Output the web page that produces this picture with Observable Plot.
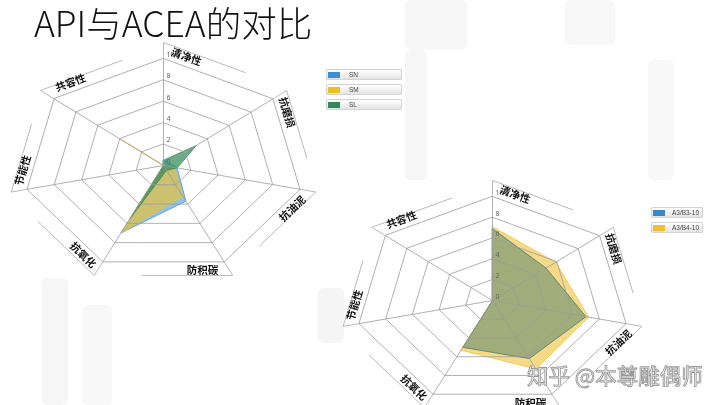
<!DOCTYPE html>
<html><head><meta charset="utf-8">
<script src="https://cdn.jsdelivr.net/npm/d3@7"></script>
<script src="https://cdn.jsdelivr.net/npm/@observablehq/plot@0.6"></script>
<style>
html,body{margin:0;padding:0;background:#fff;}
#slide{position:relative;width:720px;height:405px;overflow:hidden;background:#fff;font-family:"Noto Sans CJK SC","Noto Sans",sans-serif;}
.deco{position:absolute;background:#f6f6f6;border-radius:6px;}
#title{position:absolute;left:34px;top:3px;font-size:35.5px;line-height:38px;color:#111;white-space:nowrap;font-weight:300;}
.chart{position:absolute;}
.legend{position:absolute;}
.lrow{position:relative;height:9px;margin-bottom:4px;background:linear-gradient(#ffffff,#e4e4e4);border:1px solid #d4d4d4;border-radius:1px;font-size:6.5px;color:#444;font-family:"Liberation Sans",Arial,sans-serif;}
.lrow .sw{position:absolute;left:1px;top:1.5px;width:12px;height:6px;}
.lrow .tx{position:absolute;top:0px;line-height:9px;}
#wm{position:absolute;left:527px;top:360px;font-size:21.5px;line-height:30px;color:#fff;-webkit-text-stroke:0.9px #9a9a9a;white-space:nowrap;}
</style></head><body>
<div id="slide">
  <div class="deco" style="left:405px;top:0;width:62px;height:50px;"></div>
  <div class="deco" style="left:405px;top:50px;width:22px;height:130px;"></div>
  <div class="deco" style="left:565px;top:0;width:50px;height:45px;background:#f8f8f8"></div>
  <div class="deco" style="left:648px;top:60px;width:26px;height:120px;background:#f8f8f8"></div>
  <div class="deco" style="left:42px;top:278px;width:26px;height:127px;"></div>
  <div class="deco" style="left:82px;top:305px;width:30px;height:100px;background:#f8f8f8"></div>
  <div class="deco" style="left:318px;top:288px;width:26px;height:55px;background:#f5f5f5"></div>
  <div id="title">API与ACEA的对比</div>
</div>
<script>
// ---- data ----
const axes = ["清净性","抗磨损","抗油泥","防积碳","抗氧化","节能性","共容性"];
const ticks = [0, 2, 4, 6, 8, 10];

const apiNames = ["SN", "SM", "SL"];
const apiSN = [0.5, 0.5, 1.0, 3.7, 7.0, 0, 0];
const apiSM = [0, 0, 0.8, 3.2, 7.0, 0, 4.0];
const apiSL = [0.5, 3.0, 1.0, 0.5, 5.5, 0, 0];

const aceaNames = ["A3/B3-10", "A3/B4-10"];
const aceaB3 = [6.9, 5.0, 7.0, 6.2, 5.0, 0, 0];
const aceaB4 = [7.1, 5.9, 7.2, 7.3, 5.3, 0, 0];

// ---- drawing ----
const slide = document.getElementById("slide");
const maxV = ticks[ticks.length - 1];

function radar(cfg) {
  const n = axes.length;
  const ang = i => i * 2 * Math.PI / n;
  const pt = (v, i) => ({x: v * Math.sin(ang(i)), y: v * Math.cos(ang(i))});
  const toData = ([px, py]) => ({x: px / cfg.rx, y: -py / cfg.ry});
  const toPx = p => [p.x * cfg.rx, -p.y * cfg.ry];

  const rings = ticks.filter(t => t > 0).flatMap(t => axes.map((a, i) => ({ring: t, ...pt(t, i)})));
  const spokes = axes.map((a, i) => ({x2: pt(maxV, i).x, y2: pt(maxV, i).y}));
  const tickLabels = ticks.map(t => ({t, x: 0, y: t}));

  const labels = [], boxes = [];
  axes.forEach((a, i) => {
    const V = toPx(pt(maxV, i)), V2 = toPx(pt(maxV, (i + 1) % n));
    const ex = V2[0] - V[0], ey = V2[1] - V[1], L = Math.hypot(ex, ey);
    const ux = ex / L, uy = ey / L;
    let nx = uy, ny = -ux;
    const mx = (V[0] + V2[0]) / 2, my = (V[1] + V2[1]) / 2;
    if (nx * mx + ny * my < 0) { nx = -nx; ny = -ny; }
    const t = 0.18, d = 9;
    const P = [V[0] + ux * L * t + nx * d, V[1] + uy * L * t + ny * d];
    let rot = Math.atan2(uy, ux) * 180 / Math.PI;
    if (rot > 90) rot -= 180;
    if (rot < -90) rot += 180;
    labels.push({label: a, rot, ...toData(P)});
    const sl = Math.hypot(V[0], V[1]);
    const S = [V[0] + V[0] / sl * 16, V[1] + V[1] / sl * 16];
    const E = [S[0] + ux * L * 0.75, S[1] + uy * L * 0.75];
    boxes.push({a: toData(V), b: toData(S)}, {a: toData(S), b: toData(E)});
  });

  const seriesMarks = cfg.series.map(s =>
    Plot.line(s.values.map((v, i) => pt(v, i)), {
      x: "x", y: "y", curve: "linear-closed",
      fill: s.color, fillOpacity: s.opacity,
      stroke: s.color, strokeOpacity: 0.9, strokeWidth: 0.8,
      mixBlendMode: s.blend || "normal"
    })
  );

  const W = cfg.width, H = cfg.height;
  const plot = Plot.plot({
    width: W, height: H, margin: 0,
    x: {domain: [-cfg.cx / cfg.rx, (W - cfg.cx) / cfg.rx], range: [0, W], axis: null},
    y: {domain: [-(H - cfg.cy) / cfg.ry, cfg.cy / cfg.ry], range: [H, 0], axis: null},
    style: {background: "transparent", overflow: "visible"},
    marks: [
      ...seriesMarks,
      Plot.line(rings, {x: "x", y: "y", z: "ring", curve: "linear-closed", stroke: "#9c9c9c", strokeWidth: 0.8}),
      Plot.link(spokes, {x1: 0, y1: 0, x2: "x2", y2: "y2", stroke: "#9c9c9c", strokeWidth: 0.8}),
      Plot.link(boxes, {x1: d => d.a.x, y1: d => d.a.y, x2: d => d.b.x, y2: d => d.b.y, stroke: "#a8a8a8", strokeWidth: 0.8}),
      Plot.text(tickLabels, {x: "x", y: "y", text: d => String(d.t), dx: 3, dy: -4, textAnchor: "start", fontSize: 7, fill: "#666"}),
      Plot.text(labels, {x: "x", y: "y", text: "label", rotate: "rot", fontSize: 10.5, fontWeight: "bold", fill: "#111", fontFamily: "'Noto Sans CJK SC', sans-serif"})
    ]
  });
  plot.classList.add("chart");
  plot.style.left = cfg.left + "px";
  plot.style.top = cfg.top + "px";
  slide.appendChild(plot);
}

function legend(names, colors, left, top, width, textLeft) {
  const box = document.createElement("div");
  box.className = "legend";
  box.style.left = left + "px";
  box.style.top = top + "px";
  box.style.width = width + "px";
  names.forEach((nm, i) => {
    const row = document.createElement("div");
    row.className = "lrow";
    const sw = document.createElement("div");
    sw.className = "sw"; sw.style.background = colors[i];
    const tx = document.createElement("div");
    tx.className = "tx"; tx.style.left = textLeft + "px"; tx.textContent = nm;
    row.appendChild(sw); row.appendChild(tx);
    box.appendChild(row);
  });
  slide.appendChild(box);
}

const apiColors = ["#3d8fd1", "#f0c020", "#2e8b57"];
radar({
  left: 0, top: 40, width: 330, height: 245, cx: 163, cy: 125, rx: 14, ry: 10.7,
  series: [
    {values: apiSN, color: apiColors[0], opacity: 0.55},
    {values: apiSM, color: apiColors[1], opacity: 0.6},
    {values: apiSL, color: apiColors[2], opacity: 0.72}
  ]
});
legend(apiNames, apiColors, 326, 69, 76, 22);

const aceaColors = ["#3a87c8", "#f0c030"];
radar({
  left: 340, top: 180, width: 380, height: 225, cx: 152, cy: 120, rx: 13.7, ry: 10.4,
  series: [
    {values: aceaB4, color: aceaColors[1], opacity: 0.58},
    {values: aceaB3, color: aceaColors[0], opacity: 0.45, blend: "multiply"}
  ]
});
legend(aceaNames, aceaColors, 651, 207, 52, 20);

const wm = document.createElement("div");
wm.id = "wm"; wm.textContent = "知乎 @本尊雕偶师";
slide.appendChild(wm);
</script>
</body></html>
